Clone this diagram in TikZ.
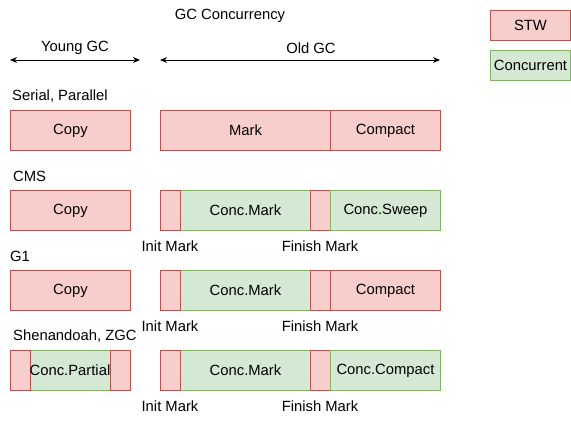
\documentclass[tikz,border=0pt]{standalone}
\usepackage{fontspec}
\setmainfont{Liberation Sans}
\usetikzlibrary{arrows.meta}
\definecolor{stwfill}{HTML}{F8CECC}
\definecolor{stwline}{HTML}{B85450}
\definecolor{confill}{HTML}{D5E8D4}
\definecolor{conline}{HTML}{82B366}
\begin{document}
\begin{tikzpicture}[x=1pt,y=-1pt,
  every node/.style={font=\fontsize{14.8}{17}\selectfont, inner sep=0pt},
  seg/.style={draw, line width=1pt, minimum height=40pt, anchor=north west},
  stw/.style={seg, fill=stwfill, draw=stwline},
  conc/.style={seg, fill=confill, draw=conline},
  lbl/.style={anchor=west},
  arr/.style={line width=1pt, {Stealth[length=7pt,width=6pt]}-{Stealth[length=7pt,width=6pt]}}
]
\useasboundingbox (0,0) rectangle (571,421);
% title
\node (title) at (230,16) {GC Concurrency};
% arrows
\coordinate (ya) at (10,60); \coordinate (yb) at (140,60);
\coordinate (oa) at (160,60); \coordinate (ob) at (440,60);
\draw[arr] (ya) -- (yb);
\draw[arr] (oa) -- (ob);
\node (young) at (75,48) {Young GC};
\node (old) at (311,48) {Old GC};
% legend
\node[stw, minimum width=80pt, minimum height=30pt] (lstw) at (490,10) {STW};
\node[conc, minimum width=80pt, minimum height=30pt] (lconc) at (490,50) {Concurrent};
% row 1
\node[lbl] (l1) at (12,96) {Serial, Parallel};
\node[stw, minimum width=120pt] (r1y) at (10,110) {Copy};
\node[stw, minimum width=170pt] (r1m) at (160,110) {Mark};
\node[stw, minimum width=110pt] (r1c) at (330,110) {Compact};
% row 2
\node[lbl] (l2) at (13,176) {CMS};
\node[stw, minimum width=120pt] (r2y) at (10,190) {Copy};
\node[conc, minimum width=130pt] (r2m) at (180,190) {Conc.Mark};
\node[stw, minimum width=20pt] (r2i) at (160,190) {};
\node[stw, minimum width=20pt] (r2f) at (310,190) {};
\node[conc, minimum width=110pt] (r2c) at (330,190) {Conc.Sweep};
\node (i2) at (170,246) {Init Mark};
\node (f2) at (320,246) {Finish Mark};
% row 3
\node[lbl] (l3) at (10,256) {G1};
\node[stw, minimum width=120pt] (r3y) at (10,270) {Copy};
\node[conc, minimum width=130pt] (r3m) at (180,270) {Conc.Mark};
\node[stw, minimum width=20pt] (r3i) at (160,270) {};
\node[stw, minimum width=20pt] (r3f) at (310,270) {};
\node[stw, minimum width=110pt] (r3c) at (330,270) {Compact};
\node (i3) at (170,326) {Init Mark};
\node (f3) at (320,326) {Finish Mark};
% row 4
\node[lbl] (l4) at (13,336) {Shenandoah, ZGC};
\node[conc, minimum width=80pt] (r4y) at (30,350) {};
\node[stw, minimum width=20pt] (r4a) at (10,350) {};
\node[stw, minimum width=20pt] (r4b) at (110,350) {};
\node (r4yt) at (70,370) {Conc.Partial};
\node[conc, minimum width=130pt] (r4m) at (180,350) {Conc.Mark};
\node[stw, minimum width=20pt] (r4i) at (160,350) {};
\node[stw, minimum width=20pt] (r4f) at (310,350) {};
\node[conc, minimum width=110pt] (r4c) at (330,350) {Conc.Compact};
\node (i4) at (170,406) {Init Mark};
\node (f4) at (320,406) {Finish Mark};
\end{tikzpicture}
\end{document}
